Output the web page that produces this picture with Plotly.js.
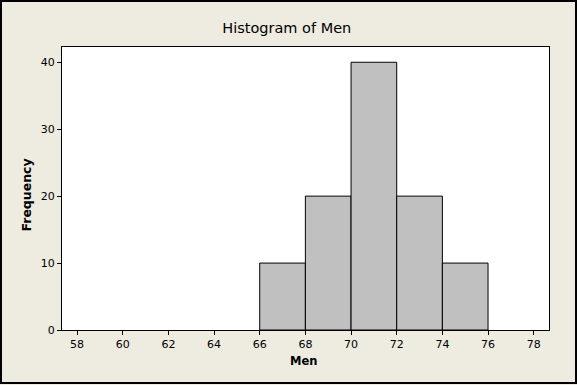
<!DOCTYPE html>
<html>
<head>
<meta charset="utf-8">
<script src="https://cdn.plot.ly/plotly-3.0.1.min.js"></script>
<style>
html,body{margin:0;padding:0;background:#EEEBE0;}
#wrap{position:relative;width:577px;height:385px;}
#chart{width:577px;height:385px;}
#frame{position:absolute;left:0;top:0;width:577px;height:384px;box-sizing:border-box;border:2px solid #000;pointer-events:none;}
</style>
</head>
<body>
<div id="wrap"><div id="chart"></div><div id="frame"></div></div>
<script>
// Data
const binStarts = [66, 68, 70, 72, 74];
const binWidth = 2;
const counts = [10, 20, 40, 20, 10];
const xTicks = [58, 60, 62, 64, 66, 68, 70, 72, 74, 76, 78];
const yTicks = [0, 10, 20, 30, 40];
const chartTitle = 'Histogram of Men';
const xTitle = 'Men';
const yTitle = 'Frequency';

const trace = {
  type: 'bar',
  x: binStarts,
  y: counts,
  width: binStarts.map(() => binWidth),
  offset: 0,
  marker: {color: '#C0C0C0', line: {color: '#000000', width: 1}},
  hoverinfo: 'x+y'
};

const font = 'DejaVu Sans, Tahoma, sans-serif';
const layout = {
  width: 577, height: 385,
  paper_bgcolor: '#EEEBE0',
  plot_bgcolor: '#FFFFFF',
  margin: {l: 62, r: 28, t: 47, b: 55},
  showlegend: false,
  bargap: 0,
  title: {text: chartTitle, font: {family: font, size: 14.5, color: '#000'}, x: 0.497, xref: 'container', y: 0.927, yref: 'container', xanchor: 'center', yanchor: 'middle'},
  xaxis: {
    range: [57.34, 78.67],
    tickvals: xTicks,
    ticktext: xTicks.map(String),
    ticks: 'outside', ticklen: 4, tickwidth: 1, tickcolor: '#000',
    showgrid: false, zeroline: false,
    showline: true, linecolor: '#000', linewidth: 1, mirror: true,
    tickfont: {family: font, size: 11, color: '#000'}
  },
  yaxis: {
    range: [0, 42.28],
    tickvals: yTicks,
    ticktext: yTicks.map(String),
    ticks: 'outside', ticklen: 4, tickwidth: 1, tickcolor: '#000',
    showgrid: false, zeroline: false,
    showline: true, linecolor: '#000', linewidth: 1, mirror: true,
    tickfont: {family: font, size: 11, color: '#000'}
  },
  annotations: [
    {text: '<b>' + xTitle + '</b>', xref: 'paper', yref: 'paper', x: 0.495, y: -0.1095,
     xanchor: 'center', yanchor: 'middle', showarrow: false, font: {family: font, size: 11.5, color: '#000'}},
    {text: '<b>' + yTitle + '</b>', xref: 'paper', yref: 'paper', x: -0.0729, y: 0.477,
     xanchor: 'center', yanchor: 'middle', textangle: -90, showarrow: false, font: {family: font, size: 12.5, color: '#000'}}
  ]
};

Plotly.newPlot('chart', [trace], layout, {displayModeBar: false, staticPlot: true});
</script>
</body>
</html>
